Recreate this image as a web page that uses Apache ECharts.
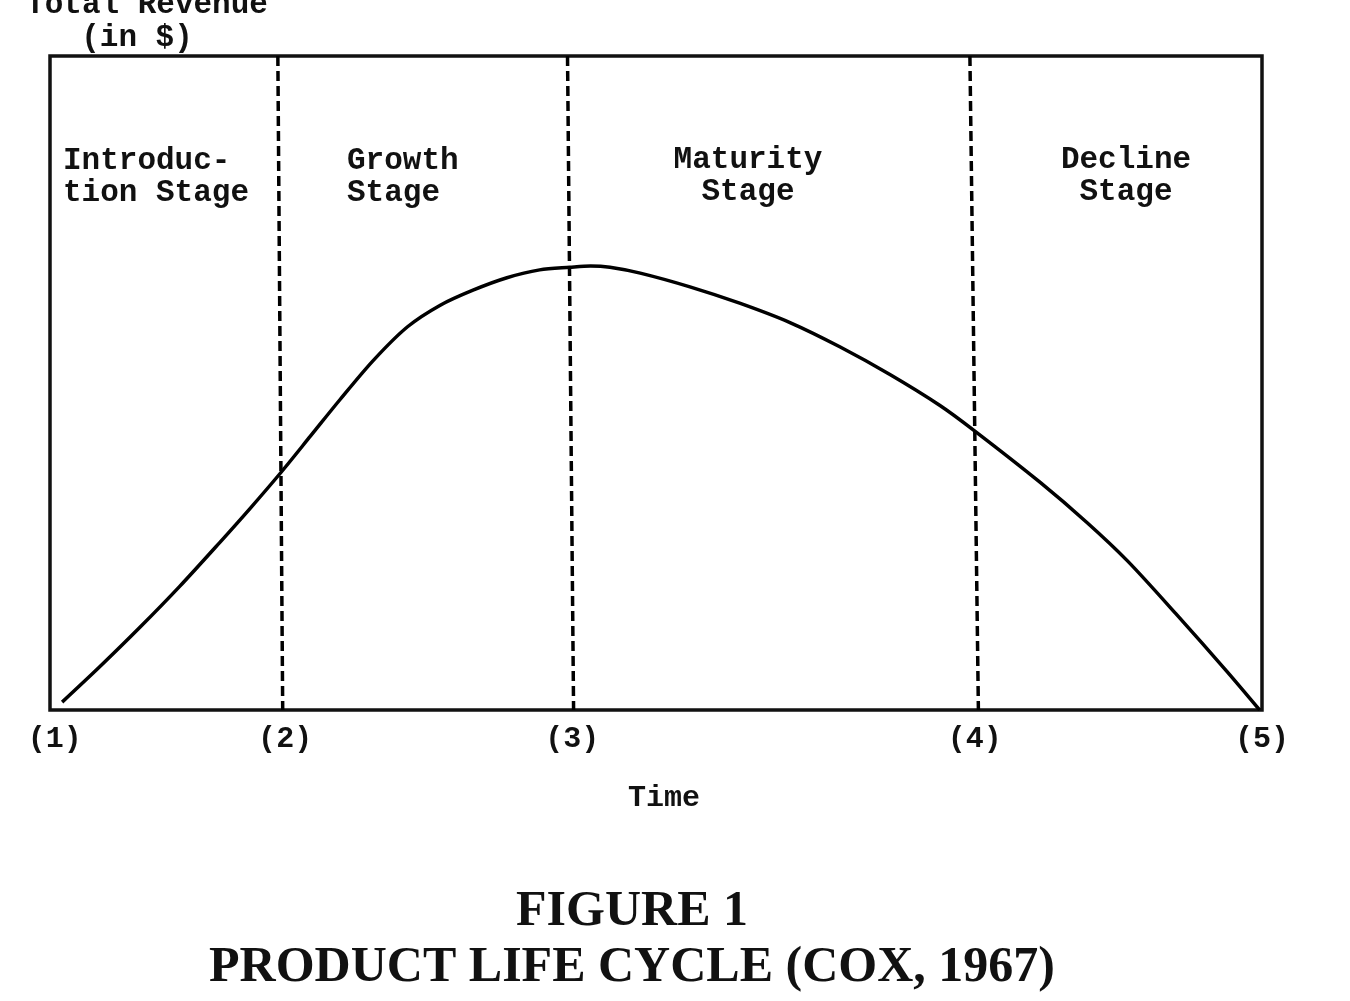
<!DOCTYPE html>
<html>
<head>
<meta charset="utf-8">
<script src="https://cdn.jsdelivr.net/npm/echarts@6/dist/echarts.min.js"></script>
<style>
html,body{margin:0;padding:0;background:#fff;}
#chart{width:1350px;height:1001px;}
</style>
</head>
<body>
<div id="chart"></div>
<script>
// ---- data (time in % of life cycle, revenue in % of chart height) ----
const curveTime = [1.0, 4.1, 7.4, 10.7, 14.0, 16.5, 19.0, 21.5, 23.9, 26.7, 29.5, 32.2, 34.9, 37.7, 40.4, 42.9, 44.6, 46.2, 48.7, 52.8, 56.9, 61.1, 65.2, 69.3, 73.4, 76.2, 81.7, 85.6, 88.9, 93.0, 97.1, 99.8];
const curveRevenue = [1.2, 6.6, 12.6, 18.9, 25.6, 30.8, 36.2, 41.9, 47.4, 53.5, 58.6, 61.9, 64.2, 66.1, 67.3, 67.7, 67.9, 67.7, 66.8, 64.7, 62.2, 59.2, 55.5, 51.3, 46.6, 42.8, 34.8, 28.6, 22.8, 14.5, 5.9, 0];
const dividerTopTime = [18.8, 42.7, 75.9];
const dividerBottomTime = [19.2, 43.2, 76.6];
const tickValues = [0.4, 19.4, 43.1, 76.3, 100];
const tickLabels = ['(1)', '(2)', '(3)', '(4)', '(5)'];
const stageLabels = ['Introduc-\ntion Stage', 'Growth\nStage', 'Maturity\nStage', 'Decline\nStage'];

const mono = '"Liberation Mono", "Courier New", monospace';
const serif = '"Liberation Serif", "Times New Roman", serif';

const chart = echarts.init(document.getElementById('chart'));

const series = [{
  type: 'line',
  data: curveTime.map((t, i) => [t, curveRevenue[i]]),
  smooth: 0.3,
  symbol: 'none',
  lineStyle: {color: '#000', width: 3.5},
  z: 3
}];
dividerTopTime.forEach((t, i) => {
  series.push({
    type: 'line',
    data: [[t, 100], [dividerBottomTime[i], 0]],
    symbol: 'none',
    lineStyle: {color: '#000', width: 3.5, type: [10, 5]},
    z: 2
  });
});

const txt = (text, x, y, align, size, family, lh) => ({
  type: 'text', x: x, y: y,
  style: {text: text, fill: '#111', font: 'bold ' + size + 'px ' + family,
          textAlign: align, textVerticalAlign: 'middle', lineHeight: lh || 32}
});

chart.setOption({
  backgroundColor: '#fff',
  animation: false,
  grid: {left: 50, right: 88, top: 56, bottom: 291, show: true, borderColor: '#111', borderWidth: 3.5, backgroundColor: 'transparent'},
  xAxis: {
    type: 'value', min: 0, max: 100,
    axisLine: {show: false}, axisTick: {show: false}, splitLine: {show: false},
    axisLabel: {
      customValues: tickValues,
      formatter: v => tickLabels[tickValues.indexOf(v)] || '',
      margin: 14, color: '#111', fontFamily: mono, fontWeight: 'bold', fontSize: 30
    }
  },
  yAxis: {
    type: 'value', min: 0, max: 100,
    axisLine: {show: false}, axisTick: {show: false}, splitLine: {show: false}, axisLabel: {show: false}
  },
  series: series,
  graphic: [
    txt('Total Revenue', 147, 5, 'center', 31, mono),
    txt('(in $)', 137, 38, 'center', 31, mono),
    txt(stageLabels[0], 63, 177, 'left', 31, mono),
    txt(stageLabels[1], 347, 177, 'left', 31, mono),
    txt(stageLabels[2], 748, 176, 'center', 31, mono),
    txt(stageLabels[3], 1126, 176, 'center', 31, mono),
    txt('Time', 664, 798, 'center', 30, mono),
    txt('FIGURE 1', 632, 912, 'center', 50, serif),
    txt('PRODUCT LIFE CYCLE (COX, 1967)', 632, 968, 'center', 50, serif)
  ]
});
</script>
</body>
</html>
